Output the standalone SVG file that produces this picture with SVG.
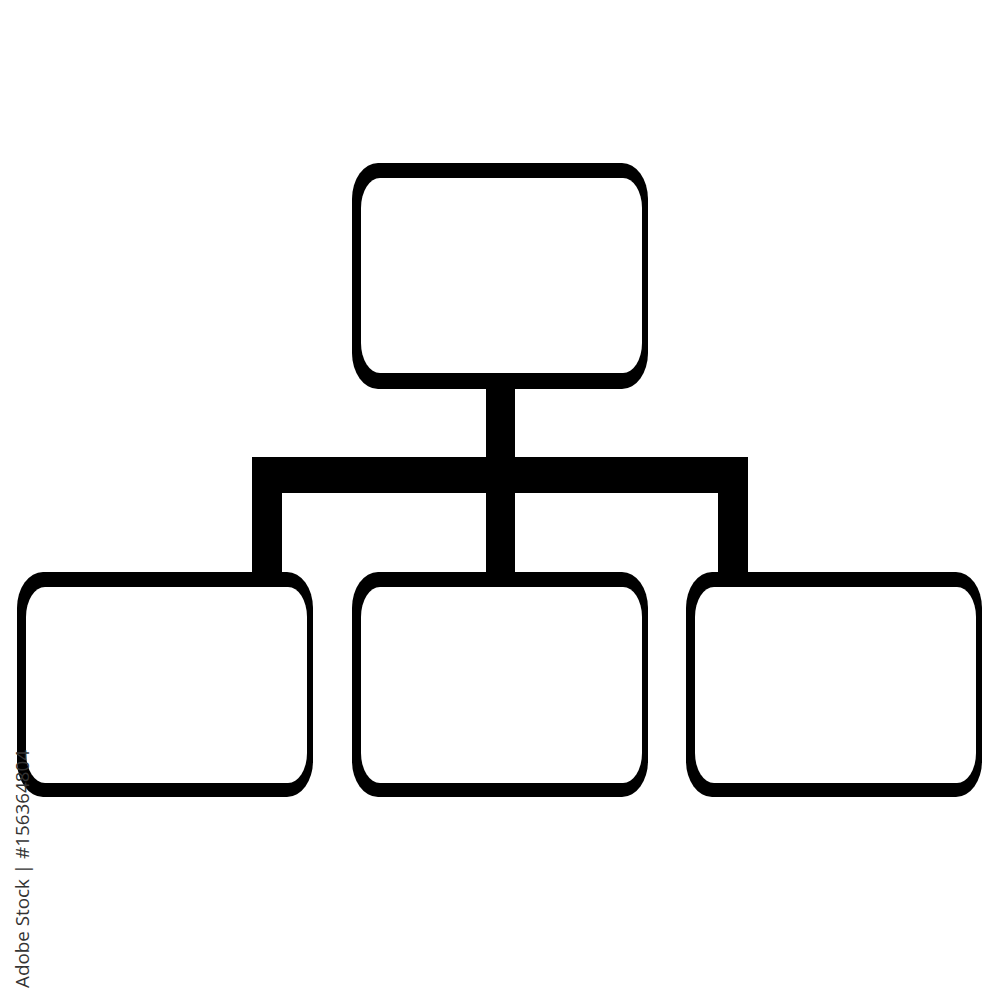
<svg xmlns="http://www.w3.org/2000/svg" width="1000" height="1000" viewBox="0 0 1000 1000">
<style>
.outer{fill:#000}
.inner{fill:#fff}
.conn{fill:#000}
.wm{font-family:"Open Sans","Liberation Sans",sans-serif;font-size:18px;fill:#333}
</style>
<rect width="1000" height="1000" fill="#fff"/>
<g id="connectors">
<rect class="conn" x="486" y="380" width="29" height="200"/>
<rect class="conn" x="252" y="457" width="496" height="36"/>
<rect class="conn" x="252" y="457" width="30" height="123"/>
<rect class="conn" x="718" y="457" width="30" height="123"/>
</g>
<g id="node-top">
<rect class="outer" x="352" y="163" width="296" height="226" rx="26" ry="36"/>
<rect class="inner" x="361" y="178" width="281" height="195" rx="19" ry="30"/>
</g>
<g id="node-left">
<rect class="outer" x="17" y="572" width="296" height="225" rx="26" ry="36"/>
<rect class="inner" x="26" y="587" width="281" height="196" rx="19" ry="30"/>
</g>
<g id="node-middle">
<rect class="outer" x="352" y="572" width="296" height="225" rx="26" ry="36"/>
<rect class="inner" x="361" y="587" width="281" height="196" rx="19" ry="30"/>
</g>
<g id="node-right">
<rect class="outer" x="686" y="572" width="296" height="225" rx="26" ry="36"/>
<rect class="inner" x="695" y="587" width="281" height="196" rx="19" ry="30"/>
</g>
<text class="wm" transform="translate(29,988) rotate(-90)" textLength="238" lengthAdjust="spacingAndGlyphs">Adobe Stock | #156364804</text>
</svg>
